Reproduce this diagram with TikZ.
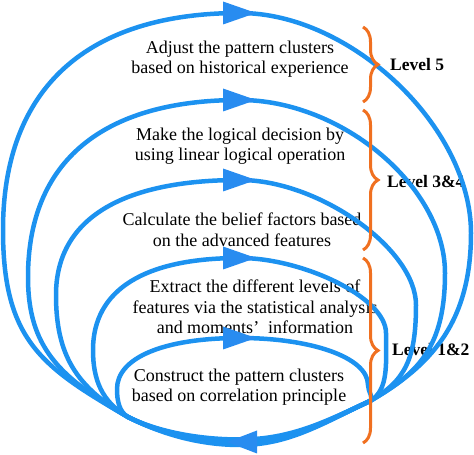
\documentclass[tikz,border=0pt]{standalone}
\usepackage{fontspec}
\setmainfont{Liberation Serif}
\usetikzlibrary{decorations.pathreplacing}
\definecolor{loopblue}{RGB}{28,146,240}
\definecolor{arrowblue}{RGB}{40,140,240}
\definecolor{braceorange}{RGB}{240,112,32}
\begin{document}
\begin{tikzpicture}[x=1pt,y=1pt,
  loopline/.style={draw=loopblue, line width=4.5pt, line cap=round, line join=round},
  headtri/.style={fill=arrowblue},
  bodytext/.style={align=center, font=\fontsize{18}{20.5}\selectfont, inner sep=0pt},
  levellabel/.style={anchor=west, font=\bfseries\fontsize{17.5}{20}\selectfont, inner sep=0pt},
  bracestyle/.style={draw=braceorange, line width=3pt, decorate, decoration={brace, amplitude=15pt}}]
\useasboundingbox (0,0) rectangle (474,455);
% texts
\node[bodytext] (t5) at (240,396) {Adjust the pattern clusters\\based on historical experience};
\node[bodytext] (t4) at (240,309) {Make the logical decision by\\using linear logical operation};
\node[bodytext] (t3) at (242,225) {Calculate the belief factors based\\on the advanced features};
\node[bodytext] (t2) at (255,148) {Extract the different levels of\\features via the statistical analysis\\and moments’\hspace{0.5em}information};
\node[bodytext] (t1) at (239,68) {Construct the pattern clusters\\based on correlation principle};
% level labels
\node[levellabel] (l5) at (390,390) {Level 5};
\node[levellabel] (l34) at (387,273) {Level 3\&4};
\node[levellabel] (l12) at (392,105) {Level 1\&2};
% loops
\coordinate (pl) at (128,38);
\coordinate (pr) at (370,54);
% loop 1
\draw[loopline] (pl) .. controls +(150:100) and +(0,-110) .. (3,225)
  .. controls +(0,141) and +(-154,0) .. (240,442)
  .. controls +(111,0) and +(0,106) .. (471,222)
  .. controls +(0,-90) and +(30:70) .. (pr)
  .. controls +(-155:50) and +(50,0) .. (240,10)
  .. controls +(-50,0) and +(-27:25) .. (pl);
% loop 2
\draw[loopline] (pl) .. controls +(150:80) and +(0,-70) .. (28,178)
  .. controls +(0,115) and +(-138,0) .. (240,355)
  .. controls +(102,0) and +(0,86) .. (445,182)
  .. controls +(0,-75) and +(30:55) .. (pr)
  .. controls +(-155:50) and +(50,0) .. (240,11.5)
  .. controls +(-50,0) and +(-27:25) .. (pl);
% loop 3
\draw[loopline] (pl) .. controls +(150:60) and +(0,-60) .. (56,160)
  .. controls +(0,75) and +(-120,0) .. (240,275)
  .. controls +(79,0) and +(0,56) .. (416,150)
  .. controls +(0,-55) and +(30:40) .. (pr)
  .. controls +(-155:50) and +(50,0) .. (240,13)
  .. controls +(-50,0) and +(-27:25) .. (pl);
% loop 4
\draw[loopline] (pl) .. controls +(150:30) and +(0,-30) .. (93,105)
  .. controls +(0,60) and +(-96,0) .. (240,197)
  .. controls +(62,0) and +(0,36) .. (386,122)
  .. controls +(0,-30) and +(30:22) .. (pr)
  .. controls +(-155:50) and +(50,0) .. (240,14)
  .. controls +(-50,0) and +(-27:25) .. (pl);
% loop 5
\draw[loopline] (pl) .. controls +(150:10) and +(0,-12) .. (117,66)
  .. controls +(0,31) and +(-77,0) .. (240,117)
  .. controls +(70,0) and +(0,28) .. (368,70)
  .. controls +(0,-7) and +(30:5) .. (pr)
  .. controls +(-155:50) and +(50,0) .. (240,15.5)
  .. controls +(-50,0) and +(-27:25) .. (pl);
% arrowheads
\foreach \ty in {442,355,275,197,117}{
  \fill[headtri] (223,\ty+11.5) -- (256,\ty) -- (223,\ty-11.5) -- cycle;
}
\fill[headtri] (257,24.5) -- (227,13) -- (257,1.5) -- cycle;
% braces
\coordinate (b5t) at (363,428);
\coordinate (b5b) at (363,353);
\coordinate (b34t) at (363,345);
\coordinate (b34b) at (363,205);
\coordinate (b12t) at (363,197);
\coordinate (b12b) at (363,12);
\draw[bracestyle] (b5t) -- (b5b);
\draw[bracestyle] (b34t) -- (b34b);
\draw[bracestyle] (b12t) -- (b12b);
\end{tikzpicture}
\end{document}
